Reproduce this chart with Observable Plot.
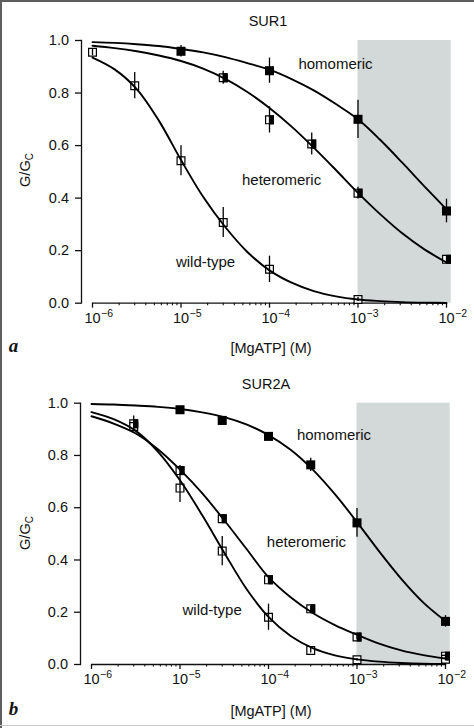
<!DOCTYPE html>
<html><head><meta charset="utf-8">
<script src="https://cdn.jsdelivr.net/npm/d3@7"></script>
<script src="https://cdn.jsdelivr.net/npm/@observablehq/plot@0.6"></script>
<style>
html,body{margin:0;padding:0;background:#fff}
#wrap{position:relative;width:474px;height:728px;overflow:hidden;background:#fff}
.panel{position:absolute;left:0}
.bl{position:absolute;left:0;top:0;width:2px;height:728px;background:#5e5e5e}
.bt{position:absolute;left:0;top:0;width:474px;height:2px;background:#5e5e5e}
.bb{position:absolute;left:0;top:725px;width:474px;height:1px;background:#c9c9c9}
</style></head>
<body><div id="wrap"></div>
<script>
// curve sample positions (log10 of [MgATP])
const curveExp = [-6,-5.75,-5.5,-5.25,-5,-4.75,-4.5,-4.25,-4,-3.75,-3.5,-3.25,-3,-2.75,-2.5,-2.25,-2];
const yTicks = [0,0.2,0.4,0.6,0.8,1.0];
const majorExp = [-6,-5,-4,-3,-2];
const shadeX = [1e-3, 1.13e-2];
const seriesNames = ["homomeric","heteromeric","wild-type"];

// SUR1 (panel a)
const sur1HomoCurve   = [0.994,0.991,0.986,0.979,0.968,0.955,0.937,0.914,0.889,0.853,0.81,0.758,0.70,0.622,0.535,0.445,0.357];
const sur1HeteroCurve = [0.98,0.971,0.959,0.943,0.922,0.893,0.854,0.804,0.743,0.672,0.592,0.507,0.42,0.339,0.266,0.205,0.155];
const sur1WildCurve   = [0.935,0.89,0.815,0.695,0.545,0.405,0.29,0.195,0.125,0.078,0.046,0.026,0.014,0.008,0.004,0.002,0.001];
const sur1HomoX = [1e-5,1e-4,1e-3,1e-2];
const sur1HomoY = [0.959,0.885,0.70,0.351];
const sur1HomoE = [0.022,0.048,0.073,0.045];
const sur1HeteroX = [3e-5,1e-4,3e-4,1e-3,1e-2];
const sur1HeteroY = [0.858,0.698,0.606,0.419,0.167];
const sur1HeteroE = [0.025,0.05,0.042,0.022,0.014];
const sur1WildX = [1e-6,3e-6,1e-5,3e-5,1e-4,1e-3];
const sur1WildY = [0.955,0.828,0.542,0.307,0.129,0.014];
const sur1WildE = [0.012,0.05,0.057,0.057,0.05,0.008];
const sur1LabelX = [10**-3.254, 10**-3.864, 10**-4.723];
const sur1LabelY = [0.908,0.469,0.156];

// SUR2A (panel b)
const sur2HomoCurve   = [0.997,0.995,0.991,0.986,0.978,0.965,0.947,0.919,0.878,0.822,0.746,0.652,0.545,0.433,0.328,0.237,0.166];
const sur2HeteroCurve = [0.95,0.922,0.884,0.824,0.746,0.656,0.552,0.443,0.334,0.257,0.197,0.151,0.114,0.08,0.054,0.036,0.023];
const sur2WildCurve   = [0.966,0.939,0.894,0.815,0.705,0.572,0.428,0.29,0.182,0.109,0.0625,0.035,0.0195,0.011,0.006,0.003,0.002];
const sur2HomoX = [1e-5,3e-5,1e-4,3e-4,1e-3,1e-2];
const sur2HomoY = [0.975,0.934,0.873,0.764,0.542,0.165];
const sur2HomoE = [0.01,0.01,0.01,0.025,0.055,0.022];
const sur2HeteroX = [3e-6,1e-5,3e-5,1e-4,3e-4,1e-3,1e-2];
const sur2HeteroY = [0.921,0.742,0.558,0.324,0.213,0.105,0.032];
const sur2HeteroE = [0.03,0.02,0.015,0.015,0.01,0.01,0.01];
const sur2WildX = [3e-6,1e-5,3e-5,1e-4,3e-4,1e-3,1e-2];
const sur2WildY = [0.911,0.675,0.434,0.181,0.054,0.018,0.02];
const sur2WildE = [0.02,0.055,0.056,0.05,0.01,0.005,0.005];
const sur2LabelX = [10**-3.26, 10**-3.571, 10**-4.637];
const sur2LabelY = [0.876,0.468,0.209];

const minorTicks = [];
for (const e of majorExp.slice(0,-1)) for (let m = 2; m <= 9; m++) minorTicks.push(m * 10**e);

const halfSquare = {
  draw(ctx, size) {
    const s = Math.sqrt(size);
    ctx.moveTo(-0.3, -s/2); ctx.lineTo(s/2, -s/2); ctx.lineTo(s/2, s/2); ctx.lineTo(-0.3, s/2); ctx.closePath();
  }
};

function pts(X, Y, E) { return X.map((x,i)=>({x, y:Y[i], e:E[i]})); }

function drawPanel(cfg) {
  const curves = [];
  [cfg.homoC, cfg.heteroC, cfg.wildC].forEach((arr, k) =>
    arr.forEach((y, i) => curves.push({s: seriesNames[k], x: 10**curveExp[i], y})));
  const homo = pts(cfg.homoX, cfg.homoY, cfg.homoE);
  const hetero = pts(cfg.heteroX, cfg.heteroY, cfg.heteroE);
  const wild = pts(cfg.wildX, cfg.wildY, cfg.wildE);
  const all = [...homo, ...hetero, ...wild];
  const labels = seriesNames.map((t,i)=>({t, x: cfg.labelX[i], y: cfg.labelY[i]}));
  const svg = Plot.plot({
    width: 474, height: cfg.height,
    marginLeft: cfg.ml, marginRight: cfg.mr, marginTop: cfg.mt, marginBottom: cfg.mb,
    x: {type: "log", domain: [1e-6, 1e-2], insetLeft: 11},
    y: {domain: [0, 1]},
    style: {fontFamily: "'Liberation Sans', Arial, sans-serif", fontSize: "14.5px", color: "#111", background: "transparent"},
    marks: [
      Plot.rect([shadeX], {x1: d=>d[0], x2: d=>d[1], y1: 0, y2: 1, fill: "#d3d8d8"}),
      Plot.frame({anchor: "left", stroke: "#111", strokeWidth: 1.3}),
      Plot.ruleY([0], {x1: 1e-6, x2: 1e-2, stroke: "#111", strokeWidth: 1.3}),
      Plot.axisY({ticks: yTicks, tickFormat: d3.format(".1f"), tickSize: 6, tickPadding: 6.5, label: null, strokeWidth: 1.3, stroke: "#111"}),
      Plot.axisX({ticks: majorExp.map(e=>10**e), tickSize: 5, tickFormat: () => "", label: null, strokeWidth: 1.3, stroke: "#111"}),
      Plot.axisX({ticks: minorTicks, tickSize: 2.6, tickFormat: () => "", label: null, strokeWidth: 1.1, stroke: "#111"}),
      Plot.text(majorExp, {x: e=>10**e, text: () => "10", frameAnchor: "bottom", dy: 19.5, fontSize: 14.5, fill: "#111"}),
      Plot.text(majorExp, {x: e=>10**e, text: e => "\u2212" + Math.abs(e), frameAnchor: "bottom", dx: 8.5, dy: 13.5, textAnchor: "start", fontSize: 10.5, fill: "#111"}),
      Plot.dot(homo, {x: "x", y: "y", symbol: "square", r: 5.1, fill: "#000", stroke: "none"}),
      Plot.dot([...hetero, ...wild], {x: "x", y: "y", symbol: "square", r: 4.4, fill: "#fff", stroke: "#000", strokeWidth: 1.2}),
      Plot.dot(hetero, {x: "x", y: "y", symbol: halfSquare, r: 5.1, fill: "#000", stroke: "none"}),
      Plot.line(curves, {x: "x", y: "y", z: "s", curve: "catmull-rom", stroke: "#000", strokeWidth: 1.9}),
      Plot.ruleX(all, {x: "x", y1: d=>d.y - d.e, y2: d=>d.y + d.e, stroke: "#000", strokeWidth: 1.3}),
      Plot.text(labels, {x: "x", y: "y", text: "t", fontSize: 15, fill: "#111"})
    ]
  });
  const s = d3.select(svg);
  const ff = "'Liberation Sans', Arial, sans-serif";
  s.append("text").attr("x", cfg.titleX).attr("y", 26).attr("text-anchor", "middle")
    .attr("font-family", ff).attr("font-size", 14.5).attr("fill", "#111").text(cfg.title);
  s.append("text").attr("x", 271).attr("y", 353).attr("text-anchor", "middle")
    .attr("font-family", ff).attr("font-size", 14.5).attr("fill", "#111").text("[MgATP] (M)");
  s.append("text").attr("x", 13.5).attr("y", 352).attr("font-family", "'Liberation Serif', 'DejaVu Serif', serif")
    .attr("font-size", 19).attr("font-weight", "bold").attr("font-style", "italic").attr("fill", "#111").text(cfg.letter);
  const yl = s.append("text").attr("transform", "translate(29.5,170) rotate(-90)").attr("text-anchor", "middle")
    .attr("font-family", ff).attr("font-size", 14.5).attr("fill", "#111");
  yl.append("tspan").text("G/G");
  yl.append("tspan").attr("font-size", 10).attr("dy", 3).text("C");
  return svg;
}

const wrap = document.getElementById("wrap");
const p1 = drawPanel({title: "SUR1", letter: "a", height: 363, ml: 81, mr: 28, mt: 40, mb: 60.3, titleX: 268,
  homoC: sur1HomoCurve, heteroC: sur1HeteroCurve, wildC: sur1WildCurve,
  homoX: sur1HomoX, homoY: sur1HomoY, homoE: sur1HomoE,
  heteroX: sur1HeteroX, heteroY: sur1HeteroY, heteroE: sur1HeteroE,
  wildX: sur1WildX, wildY: sur1WildY, wildE: sur1WildE,
  labelX: sur1LabelX, labelY: sur1LabelY});
const p2 = drawPanel({title: "SUR2A", letter: "b", height: 365, ml: 80, mr: 29, mt: 39.7, mb: 64, titleX: 266,
  homoC: sur2HomoCurve, heteroC: sur2HeteroCurve, wildC: sur2WildCurve,
  homoX: sur2HomoX, homoY: sur2HomoY, homoE: sur2HomoE,
  heteroX: sur2HeteroX, heteroY: sur2HeteroY, heteroE: sur2HeteroE,
  wildX: sur2WildX, wildY: sur2WildY, wildE: sur2WildE,
  labelX: sur2LabelX, labelY: sur2LabelY});
const d1 = document.createElement("div"); d1.className = "panel"; d1.style.top = "0px"; d1.appendChild(p1);
const d2 = document.createElement("div"); d2.className = "panel"; d2.style.top = "363px"; d2.appendChild(p2);
wrap.appendChild(d1); wrap.appendChild(d2);
["bl","bt","bb"].forEach(c => { const b = document.createElement("div"); b.className = c; wrap.appendChild(b); });
</script></body></html>
